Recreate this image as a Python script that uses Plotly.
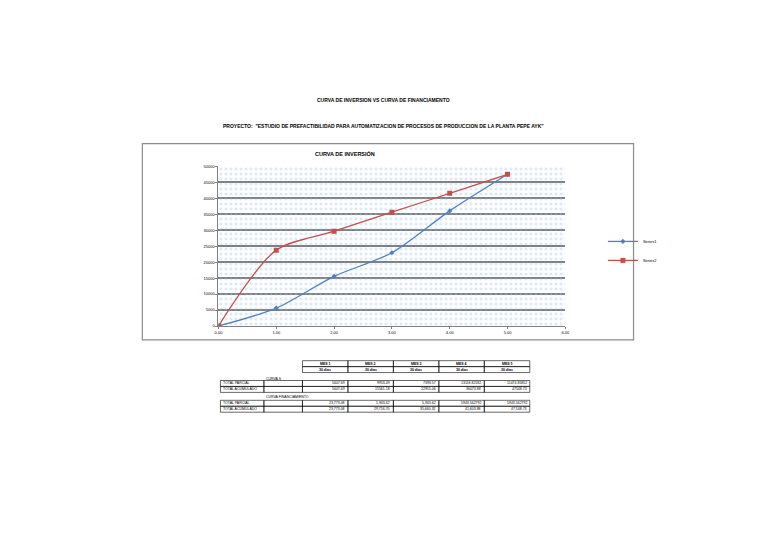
import plotly.graph_objects as go

W, H = 768, 543

# chart data
meses = [0, 1, 2, 3, 4, 5]
inversion_acum = [0, 5607.69, 15561.18, 22955.06, 36073.88, 47548.73]
financ_acum = [0, 23773.08, 29716.70, 35660.32, 41603.88, 47548.73]

# table text
col_head = ["MES 1", "MES 2", "MES 3", "MES 4", "MES 5"]
col_sub = ["30 días", "30 días", "30 días", "30 días", "30 días"]
curva_s_parcial = ["5607.69", "9953.49", "7393.57", "13118.82182", "11474.85852"]
curva_s_acum = ["5607.69", "15561.18", "22955.06", "36073.88", "47548.73"]
financ_parcial = ["23,773.08", "5,943.62", "5,943.62", "5943.562792", "5943.562792"]
financ_acum_txt = ["23,773.08", "29,716.70", "35,660.32", "41,603.88", "47,548.73"]


def px(x):
    return x / W


def py(y):
    return 1 - y / H


YMAX = 50000
XMAX = 6

fig = go.Figure()

# dotted plot-area background
fig.add_trace(go.Scatter(
    x=[0, XMAX, XMAX, 0, 0], y=[0, 0, YMAX, YMAX, 0],
    mode="lines", line=dict(width=0), fill="toself",
    fillcolor="rgba(255,255,255,0)",
    fillpattern=dict(shape=".", fgcolor="#9bbde3", bgcolor="rgba(0,0,0,0)",
                     size=5, solidity=0.2),
    showlegend=False, hoverinfo="skip"))

fig.add_trace(go.Scatter(
    x=meses, y=inversion_acum, name="Series1", mode="lines+markers",
    line=dict(color="#4f81bd", width=1.3, shape="spline", smoothing=0.8),
    marker=dict(symbol="diamond", size=4, color="#4f81bd")))
fig.add_trace(go.Scatter(
    x=meses, y=financ_acum, name="Series2", mode="lines+markers",
    line=dict(color="#c0504d", width=1.3, shape="spline", smoothing=0.8),
    marker=dict(symbol="square", size=5, color="#c0504d")))

fig.update_layout(
    width=W, height=H, margin=dict(l=0, r=0, t=0, b=0),
    paper_bgcolor="white", plot_bgcolor="white",
    font=dict(family="Liberation Sans, Arial", color="black"),
    legend=dict(x=px(606), y=py(226), xanchor="left", yanchor="top",
                font=dict(size=4), itemwidth=30, tracegroupgap=4,
                bgcolor="rgba(0,0,0,0)"),
    xaxis=dict(domain=[px(217), px(568)], range=[0, XMAX], dtick=1,
               tickformat=".2f", tickfont=dict(size=4), showgrid=False,
               showline=True, linecolor="#808080", linewidth=1,
               ticks="outside", ticklen=2, tickcolor="#808080", zeroline=False),
    yaxis=dict(domain=[py(326), py(165)], range=[0, YMAX], dtick=5000,
               tickformat="d", tickfont=dict(size=4), showgrid=True,
               gridcolor="#7f7f7f", gridwidth=1.5, showline=True,
               linecolor="#808080", linewidth=1, ticks="outside", ticklen=2,
               tickcolor="#808080", zeroline=False),
)

shapes = []
ann = []


def text(x, y, s, size=4, bold=False, anchor="left"):
    ann.append(dict(x=px(x), y=py(y), xref="paper", yref="paper",
                    text="<b>%s</b>" % s if bold else s, showarrow=False,
                    xanchor=anchor, yanchor="middle",
                    font=dict(size=size, family="Liberation Sans, Arial")))


def rect(x0, y0, x1, y1, color="black", width=0.6):
    shapes.append(dict(type="rect", xref="paper", yref="paper",
                       x0=px(x0), y0=py(y0), x1=px(x1), y1=py(y1),
                       line=dict(color=color, width=width)))


# titles
text(384, 98, "CURVA DE INVERSION VS CURVA DE FINANCIAMENTO", 5, True, "center")
text(384, 124, 'PROYECTO:  "ESTUDIO DE PREFACTIBILIDAD PARA AUTOMATIZACION DE '
     'PROCESOS DE PRODUCCION DE LA PLANTA PEPE AYK"', 5, True, "center")

# chart frame and chart title
rect(140, 142, 637, 340, "#8c8c8c", 1.2)
text(345, 152, "CURVA DE INVERSIÓN", 5.5, True, "center")

# table
cols = [302 + 46 * i for i in range(6)]
for i in range(5):
    rect(cols[i], 361, cols[i + 1], 367)
    rect(cols[i], 367, cols[i + 1], 373)
    text((cols[i] + cols[i + 1]) / 2, 364, col_head[i], 3.5, True, "center")
    text((cols[i] + cols[i + 1]) / 2, 370, col_sub[i], 3.5, True, "center")


def block(y_label, y0, label_txt, parcial, acum):
    text(263, y_label, label_txt, 3.5)
    edges = [219, 263] + cols
    for r, (name, vals) in enumerate([("TOTAL PARCIAL", parcial),
                                      ("TOTAL ACUMULADO", acum)]):
        ya, yb = y0 + 6 * r, y0 + 6 * (r + 1)
        for j in range(len(edges) - 1):
            rect(edges[j], ya, edges[j + 1], yb)
        text(220, (ya + yb) / 2, name, 3.5)
        for j, v in enumerate(vals):
            text(cols[j + 1] - 1, (ya + yb) / 2, v, 3.5, anchor="right")


block(379, 381, "CURVA S", curva_s_parcial, curva_s_acum)
block(398, 401, "CURVA FINANCIAMIENTO", financ_parcial, financ_acum_txt)

fig.update_layout(shapes=shapes, annotations=ann)
fig.write_html("out.html", config={"displayModeBar": False},
               post_script="document.body.style.margin='0';"
                           "document.body.style.overflow='hidden';")
